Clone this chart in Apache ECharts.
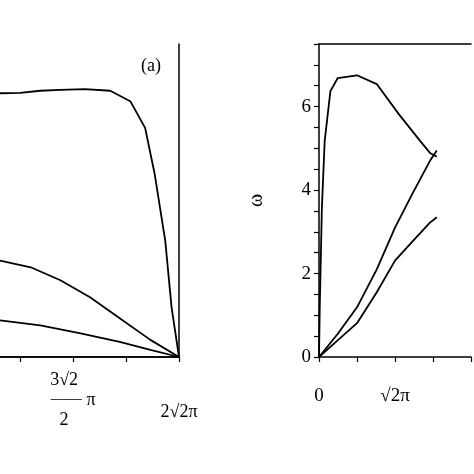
<!DOCTYPE html>
<html><head><meta charset="utf-8">
<script src="https://cdn.jsdelivr.net/npm/echarts@6/dist/echarts.min.js"></script>
<style>html,body{margin:0;padding:0;background:#fff}#c{width:474px;height:474px}</style>
</head><body><div id="c"></div>
<script>
// x in units of sqrt(2)*pi/2 (left) and sqrt(2)*pi (right)
var leftTopX = [2.31, 2.5, 2.69, 2.88, 3.11, 3.35, 3.54, 3.68, 3.77, 3.87, 3.93, 4.0];
var leftTopY = [6.32, 6.33, 6.38, 6.40, 6.42, 6.38, 6.13, 5.49, 4.39, 2.79, 1.19, 0];
var leftMidX = [2.31, 2.60, 2.88, 3.16, 3.44, 3.73, 4.0];
var leftMidY = [2.31, 2.15, 1.84, 1.43, 0.93, 0.41, 0];
var leftLowX = [2.31, 2.69, 3.06, 3.44, 3.73, 4.0];
var leftLowY = [0.88, 0.76, 0.57, 0.36, 0.17, 0];
var rightTopX = [0, 0.01, 0.038, 0.075, 0.15, 0.245, 0.5, 0.76, 1.05, 1.33, 1.46, 1.55];
var rightTopY = [0, 1.2, 3.58, 5.18, 6.37, 6.68, 6.75, 6.54, 5.82, 5.18, 4.89, 4.8];
var rightMidX = [0, 0.245, 0.5, 0.76, 1.0, 1.24, 1.46, 1.55];
var rightMidY = [0, 0.55, 1.19, 2.1, 3.1, 3.95, 4.70, 4.95];
var rightLowX = [0, 0.245, 0.5, 0.76, 1.0, 1.24, 1.46, 1.55];
var rightLowY = [0, 0.4, 0.81, 1.55, 2.31, 2.79, 3.22, 3.35];
var leftTicks = [2.5, 3, 3.5, 4];

function pairs(xs, ys) { return xs.map(function (x, i) { return [x, ys[i]]; }); }

var font = 'Liberation Serif';
var axisLine = { lineStyle: { color: '#000', width: 1.5 } };
var tick = { show: true, length: 5, lineStyle: { color: '#000', width: 1.2 } };

function line(xs, ys, idx) {
    return { type: 'line', xAxisIndex: idx, yAxisIndex: idx, data: pairs(xs, ys), smooth: false,
        symbol: 'none', lineStyle: { color: '#000', width: 1.8 }, silent: true };
}

var chart = echarts.init(document.getElementById('c'));
chart.setOption({
    animation: false,
    title: { text: '(a)', left: 136, top: 52, textStyle: { fontFamily: font, fontSize: 18, fontWeight: 'normal', color: '#000' } },
    grid: [
        { left: 0, width: 179, top: 44, height: 313 },
        { left: 319, width: 212, top: 44, height: 313 }
    ],
    xAxis: [
        { gridIndex: 0, type: 'value', min: 2.31, max: 4, axisLine: axisLine, splitLine: { show: false },
          axisTick: Object.assign({ customValues: leftTicks }, tick),
          axisLabel: { customValues: [3, 4], margin: 12, color: '#000', fontFamily: font, fontSize: 18,
            formatter: function (v) {
                if (v === 3) return '{n|3√2}\n{b|────}{p| π}\n{n|2}';
                return '{m|2√2π}';
            },
            rich: { n: { fontFamily: font, fontSize: 18, padding: [0, 18, 0, 0], lineHeight: 22 },
                    b: { fontSize: 11, lineHeight: 16 }, p: { fontFamily: font, fontSize: 18 },
                    m: { fontFamily: font, fontSize: 18, padding: [34, 0, 0, 0] } } } },
        { gridIndex: 1, type: 'value', min: 0, max: 2, interval: 0.5, axisLine: axisLine, axisTick: tick, splitLine: { show: false },
          axisLabel: { margin: 30, color: '#000', fontFamily: font, fontSize: 19,
            formatter: function (v) { return v === 0 ? '0' : (v === 1 ? '√2π' : ''); } } },
        { gridIndex: 0, type: 'value', position: 'top', min: 2.31, max: 4, axisLine: axisLine, axisTick: { show: false }, axisLabel: { show: false }, splitLine: { show: false } },
        { gridIndex: 1, type: 'value', position: 'top', min: 0, max: 2, axisLine: axisLine, axisTick: { show: false }, axisLabel: { show: false }, splitLine: { show: false } }
    ],
    yAxis: [
        { gridIndex: 0, type: 'value', min: 0, max: 7.5, interval: 0.5, axisLine: { show: false }, axisTick: { show: false }, axisLabel: { show: false }, splitLine: { show: false } },
        { gridIndex: 1, type: 'value', min: 0, max: 7.5, interval: 0.5, axisLine: axisLine, axisTick: tick, splitLine: { show: false },
          name: 'ω', nameLocation: 'middle', nameGap: 52, nameRotate: 90,
          nameTextStyle: { fontFamily: font, fontSize: 20, color: '#000' },
          axisLabel: { margin: 8, color: '#000', fontFamily: font, fontSize: 19,
            formatter: function (v) { return (v % 2 === 0) ? String(v) : ''; } } },
        { gridIndex: 0, type: 'value', position: 'right', min: 0, max: 7.5, axisLine: axisLine, axisTick: { show: false }, axisLabel: { show: false }, splitLine: { show: false } }
    ],
    series: [
        line(leftTopX, leftTopY, 0),
        line(leftMidX, leftMidY, 0),
        line(leftLowX, leftLowY, 0),
        line(rightTopX, rightTopY, 1),
        line(rightMidX, rightMidY, 1),
        line(rightLowX, rightLowY, 1)
    ]
});
</script></body></html>
